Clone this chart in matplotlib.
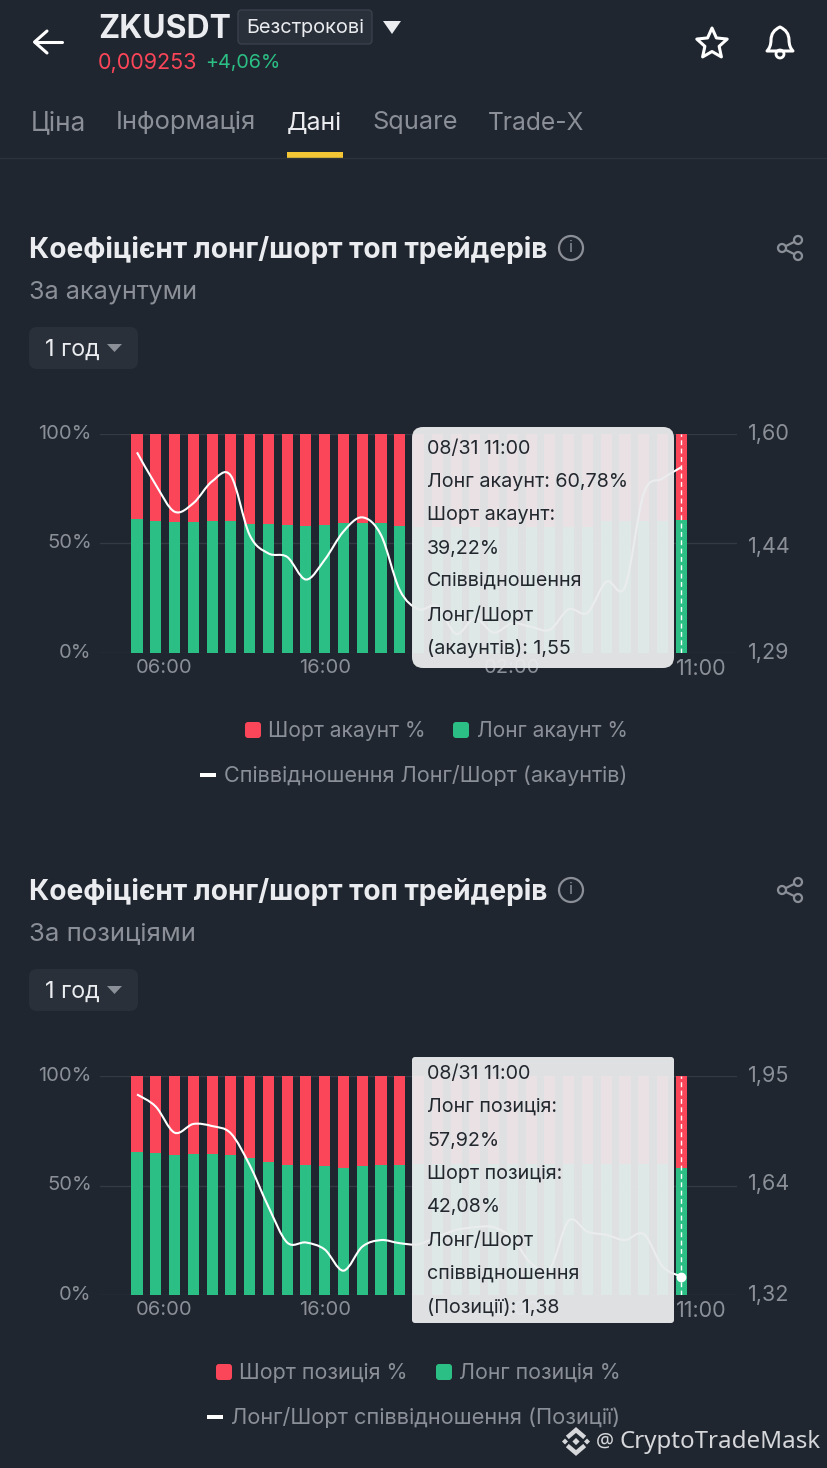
import numpy as np
import matplotlib
matplotlib.use("Agg")
import matplotlib.pyplot as plt
from matplotlib.patches import FancyBboxPatch, Circle, Polygon, PathPatch, Rectangle
from matplotlib.path import Path
from matplotlib.transforms import ScaledTranslation

# Screenshot of two long/short ratio panels
hours = list(range(30))
tick_pos = [0, 10, 20, 29]
tick_names = ["06:00", "16:00", "02:00", "11:00"]

long_acc = [61.0, 60.4, 59.8, 60.0, 60.4, 60.4, 59.1, 58.8, 58.6, 58.1,
            58.6, 59.5, 59.5, 59.5, 57.8, 57.7, 57.7, 57.7, 57.7, 57.7,
            57.7, 57.7, 57.7, 57.7, 57.7, 60.3, 60.3, 60.3, 60.3, 60.78]
ratio_acc = [1.574, 1.528, 1.490, 1.502, 1.533, 1.541, 1.457, 1.431, 1.426, 1.394,
             1.422, 1.462, 1.482, 1.457, 1.379, 1.352, 1.356, 1.317, 1.339, 1.319,
             1.332, 1.327, 1.323, 1.352, 1.347, 1.391, 1.384, 1.516, 1.537, 1.553]
long_pos = [65.4, 65.0, 64.1, 64.2, 64.2, 63.9, 62.7, 60.9, 59.4, 59.4,
            59.1, 58.1, 59.1, 59.4, 59.4, 60.0, 60.0, 60.0, 60.0, 60.0,
            60.0, 60.0, 60.0, 60.0, 60.0, 60.0, 60.0, 60.0, 60.0, 57.92]
ratio_pos = [1.897, 1.862, 1.787, 1.812, 1.806, 1.785, 1.694, 1.574, 1.471, 1.471,
             1.451, 1.390, 1.459, 1.478, 1.469, 1.466, 1.488, 1.507, 1.515, 1.515,
             1.483, 1.411, 1.397, 1.534, 1.502, 1.493, 1.478, 1.495, 1.402, 1.373]
right_acc = [1.29, 1.44, 1.60]
right_pos = [1.32, 1.64, 1.95]
right_acc_lbl = ["1,29", "1,44", "1,60"]
right_pos_lbl = ["1,32", "1,64", "1,95"]

tip_acc = ["08/31 11:00", "Лонг акаунт: 60,78%", "Шорт акаунт:", "39,22%",
           "Співвідношення", "Лонг/Шорт", "(акаунтів): 1,55"]
tip_pos = ["08/31 11:00", "Лонг позиція:", "57,92%", "Шорт позиція:", "42,08%",
           "Лонг/Шорт", "співвідношення", "(Позиції): 1,38"]

BG = "#20262f"
RED = "#fb4559"
GREEN = "#2cbf85"
GREY = "#8b9098"
GRID = "#343a44"
W, H = 828, 1468

plt.rcParams["font.family"] = ["Inter", "DejaVu Sans"]
fig = plt.figure(figsize=(W / 100, H / 100), dpi=100, facecolor=BG)

ui = fig.add_axes([0, 0, 1, 1], zorder=10)
ui.set_xlim(0, W)
ui.set_ylim(H, 0)
ui.axis("off")
ui.patch.set_alpha(0)
renderer = fig.canvas.get_renderer()


def put(txt, x0, x1, y, color, weight="normal", family=None, zorder=3):
    # fit the text between two pixel columns, y nudged for the font's centre
    t = ui.text(x0, y + 2, txt, color=color, fontsize=14, fontweight=weight, va="center", ha="left", zorder=zorder)
    if family:
        t.set_family(family)
    w = t.get_window_extent(renderer).width
    t.set_fontsize(14 * 1.005 * (x1 - x0) / w)
    return t


def rounded(x0, y0, x1, y1, r, **kw):
    p = FancyBboxPatch((x0 + r, y0 + r), x1 - x0 - 2 * r, y1 - y0 - 2 * r,
                       boxstyle=f"round,pad={r},rounding_size={r}", **kw)
    ui.add_patch(p)
    return p


def smooth_path(xs, ys):
    # catmull-rom through the hourly values, as cubic beziers
    xs, ys = np.asarray(xs, float), np.asarray(ys, float)
    verts = [(xs[0], ys[0])]
    codes = [Path.MOVETO]
    for i in range(len(xs) - 1):
        a = max(i - 1, 0)
        b = min(i + 2, len(xs) - 1)
        verts.append((xs[i] + (xs[i + 1] - xs[a]) / 6, ys[i] + (ys[i + 1] - ys[a]) / 6))
        verts.append((xs[i + 1] - (xs[b] - xs[i]) / 6, ys[i + 1] - (ys[b] - ys[i]) / 6))
        verts.append((xs[i + 1], ys[i + 1]))
        codes += [Path.CURVE4] * 3
    return Path(verts, codes)


def shift(label, dx, dy):
    label.set_transform(label.get_transform() + ScaledTranslation(dx / 100, dy / 100, fig.dpi_scale_trans))


def draw_chart(top, bottom, long_vals, ratio, r_ticks, r_labels):
    ax = fig.add_axes([100 / W, 1 - bottom / H, 637 / W, (bottom - top) / H])
    ax.patch.set_alpha(0)
    ax.set_xlim((100 - 137) / 18.77, (737 - 137) / 18.77)
    ax.set_ylim(0, 100)
    short_vals = [100 - v for v in long_vals]
    ax.bar(hours, long_vals, width=0.59, color=GREEN, zorder=2)
    ax.bar(hours, short_vals, bottom=long_vals, width=0.59, color=RED, zorder=2)
    ax.set_yticks([0, 50, 100])
    ax.set_yticklabels(["0%", "50%", "100%"])
    ax.grid(axis="y", color=GRID, lw=1, zorder=1)
    ax.set_xticks(tick_pos)
    ax.set_xticklabels(tick_names)
    ax.tick_params(axis="both", length=0, colors=GREY, labelsize=14.5)
    ax.tick_params(axis="y", pad=6)
    ax.tick_params(axis="x", pad=4)
    labels = ax.get_xticklabels()
    shift(labels[0], 27, 0)
    shift(labels[3], 20, 0)
    labels[3].set_fontsize(15.5)
    for lb in ax.get_yticklabels():
        shift(lb, 0, 2)
    for s in ax.spines.values():
        s.set_visible(False)

    ax2 = ax.twinx()
    ax2.set_ylim(r_ticks[0], r_ticks[-1])
    ax2.set_yticks(r_ticks)
    ax2.set_yticklabels(r_labels)
    ax2.tick_params(axis="y", length=0, colors=GREY, labelsize=15.5, pad=8)
    for lb in ax2.get_yticklabels():
        shift(lb, 0, 2)
    for s in ax2.spines.values():
        s.set_visible(False)
    ax2.add_patch(PathPatch(smooth_path(hours, ratio), fc="none", ec="white", lw=1.5, zorder=4))
    ax2.plot([hours[-1], hours[-1]], [r_ticks[0], r_ticks[-1]], color="white", lw=1, ls=(0, (3.5, 2.5)), zorder=5)
    return ax, ax2


def share_icon(cx, cy):
    pts = [(cx + 8, cy - 8), (cx - 8, cy), (cx + 8, cy + 8)]
    ui.plot([p[0] for p in pts], [p[1] for p in pts], color=GREY, lw=1.6)
    for p in pts:
        ui.add_patch(Circle(p, 4, fc=BG, ec=GREY, lw=1.6, zorder=3))


def section(dy, sub, sub_x1):
    put("Коефіцієнт лонг/шорт топ трейдерів", 29, 547, 248 + dy, "#eaecef", "bold")
    put(sub, 29, sub_x1, 290 + dy, GREY)
    ui.add_patch(Circle((571, 248 + dy), 12, fc="none", ec=GREY, lw=1.6))
    ui.text(571, 248 + dy, "i", color=GREY, fontsize=12, ha="center", va="center")
    share_icon(790, 248 + dy)
    rounded(29, 327 + dy, 138, 369 + dy, 8, fc="#29303a", ec="none")
    put("1 год", 45, 100, 348 + dy, "#eaecef")
    ui.add_patch(Polygon([(107, 344 + dy), (122, 344 + dy), (114.5, 352 + dy)], fc=GREY, ec="none"))


def tooltip(x0, y0, x1, y1, r, lines, ys):
    rounded(x0, y0, x1, y1, r, fc="#e9ebed", ec="none", alpha=0.95, zorder=5)
    for txt, y in zip(lines, ys):
        ui.text(427, y, txt, color="#23282f", fontsize=14.2, va="center", ha="left", zorder=6)


def swatch(x, y, c):
    rounded(x, y - 8, x + 16, y + 8, 3, fc=c, ec="none")


# top bar
ui.plot([35, 62], [42, 42], color="white", lw=2.2, solid_capstyle="round")
ui.plot([47, 34.5, 47], [31, 42, 53], color="white", lw=2.2, solid_capstyle="round", solid_joinstyle="round")
put("ZKUSDT", 98, 230, 27, "#eaecef", "bold")
rounded(238, 10, 372, 44, 4, fc="#29303a", ec="#3a414c", lw=1)
put("Безстрокові", 246, 364, 26, "#eaecef")
ui.add_patch(Polygon([(383, 21), (401, 21), (392, 34)], fc="#eaecef", ec="none"))
put("0,009253", 98, 197, 61, RED)
put("+4,06%", 205, 280, 61, GREEN)

ang = np.deg2rad(np.arange(-90, 270, 36))
rad = np.where(np.arange(10) % 2 == 0, 16, 7.5)
ui.add_patch(Polygon(np.c_[712 + rad * np.cos(ang), 44 + rad * np.sin(ang)], fc="none", ec="white", lw=2.2, joinstyle="round"))

bell = Path([(767, 51), (771, 47), (771, 40), (771, 31), (780, 27), (780, 27), (780, 27), (789, 31), (789, 40),
             (789, 47), (793, 51), (767, 51)],
            [Path.MOVETO, Path.CURVE3, Path.CURVE3, Path.CURVE3, Path.CURVE3, Path.LINETO, Path.LINETO,
             Path.CURVE3, Path.CURVE3, Path.CURVE3, Path.CURVE3, Path.CLOSEPOLY])
ui.add_patch(PathPatch(bell, fc="none", ec="white", lw=2.2, joinstyle="round"))
ui.add_patch(Circle((780, 54), 4, fc="none", ec="white", lw=2))

put("Ціна", 31, 86, 121, GREY)
put("Інформація", 116, 256, 121, GREY)
put("Дані", 287, 342, 121, "#eaecef")
put("Square", 372, 457, 121, GREY)
put("Trade-X", 488, 584, 121, GREY)
ui.plot([0, W], [157.5, 157.5], color="#2c323b", lw=1)
ui.add_patch(Rectangle((287, 152), 56, 5.5, fc="#f4c534", ec="none"))

# panels
section(0, "За акаунтуми", 196)
section(642, "За позиціями", 195)
draw_chart(434, 653, long_acc, ratio_acc, right_acc, right_acc_lbl)
ax_b, ax_b2 = draw_chart(1076, 1295, long_pos, ratio_pos, right_pos, right_pos_lbl)
ax_b2.plot(hours[-1], ratio_pos[-1], "o", color="white", ms=6, zorder=6)

tooltip(412, 427, 674, 668, 11, tip_acc, [449, 482, 515, 549, 581, 615, 648])
tooltip(412, 1057, 674, 1323, 3, tip_pos, [1074, 1107, 1141, 1174, 1207, 1240, 1274, 1307])

# legends
swatch(245, 730, RED)
put("Шорт акаунт %", 268, 425, 729, GREY)
swatch(453, 730, GREEN)
put("Лонг акаунт %", 477, 627, 729, GREY)
ui.add_patch(Rectangle((200, 773), 16, 4, fc="white", ec="none"))
put("Співвідношення Лонг/Шорт (акаунтів)", 224, 627, 773, GREY)

swatch(216, 1372, RED)
put("Шорт позиція %", 239, 407, 1371, GREY)
swatch(436, 1372, GREEN)
put("Лонг позиція %", 459, 620, 1371, GREY)
ui.add_patch(Rectangle((207, 1415), 16, 4, fc="white", ec="none"))
put("Лонг/Шорт співвідношення (Позиції)", 231, 620, 1415, GREY)

# watermark
LOGO = "#d5d7da"
ui.plot([569, 576, 583], [1436, 1430, 1436], color=LOGO, lw=3.2, solid_joinstyle="miter")
ui.plot([569, 576, 583], [1447, 1453, 1447], color=LOGO, lw=3.2, solid_joinstyle="miter")
for mx, s in [(565, 3), (576, 3.6), (587, 3)]:
    ui.add_patch(Polygon([(mx - s, 1441.5), (mx, 1441.5 - s), (mx + s, 1441.5), (mx, 1441.5 + s)], fc=LOGO, ec="none"))
put("@", 596, 614, 1440, LOGO, family="Noto Sans")
put("CryptoTradeMask", 620, 820, 1440, LOGO, family="Noto Sans")

fig.savefig("out.png", dpi=100, facecolor=BG)
